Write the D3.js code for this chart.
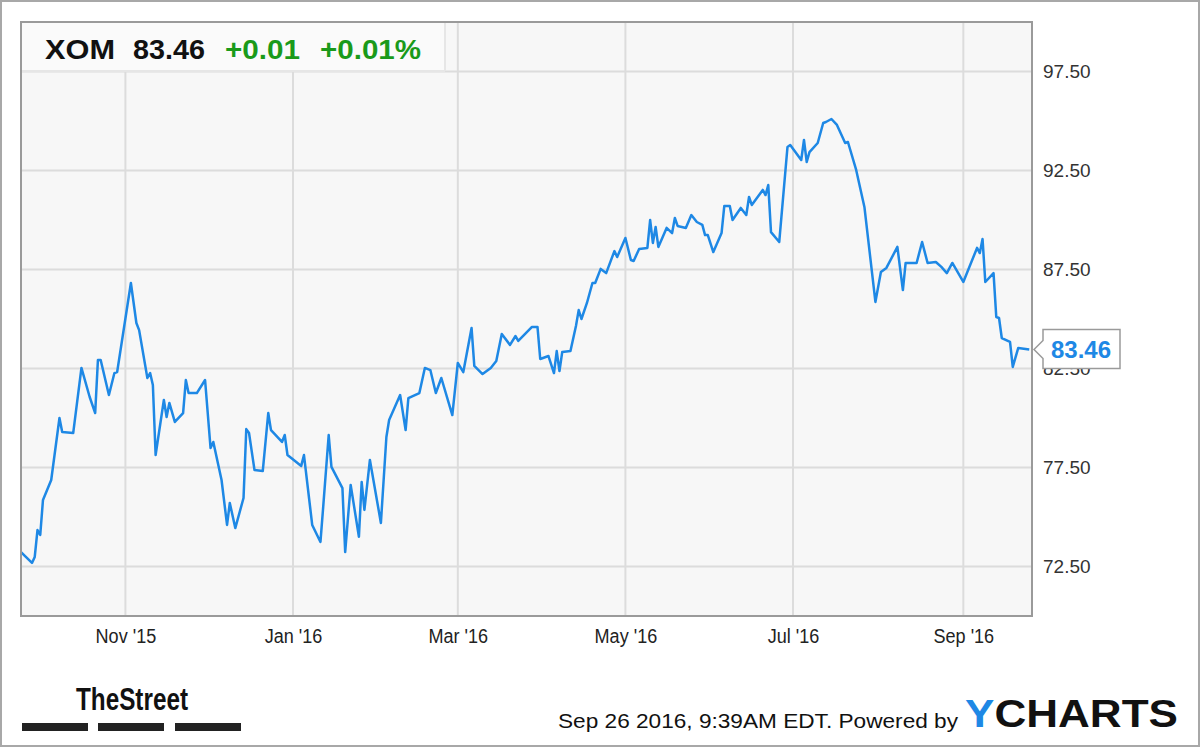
<!DOCTYPE html>
<html><head><meta charset="utf-8">
<script src="https://cdn.jsdelivr.net/npm/d3@7"></script>
<style>body{margin:0;background:#fff}svg{display:block}</style>
</head><body>
<script>
const startDate = "2015-09-24";
const dayOffsets = [0,4,5,6,7,8,11,14,15,19,22,25,27,28,29,32,34,35,40,42,43,46,47,48,
49,52,53,54,56,59,60,61,64,67,69,70,73,75,76,78,81,82,83,85,88,90,91,95,96,97,102,103,106,109,110,112,113,117,118,120,123,124,125,127,131,133,134,138,140,141,145,147,
149,151,153,157,159,161,164,165,168,171,173,175,178,180,181,186,188,189,192,194,195,196,197,200,202,203,204,206,208,209,211,213,216,217,220,222,223,225,228,229,230,231,232,235,237,238,239,242,244,246,248,
249,250,252,255,256,258,259,262,264,265,266,270,271,272,273,276,279,280,284,285,286,287,290,292,293,295,297,300,301,304,307,311,313,315,319,321,322,326,328,330,333,335,337,339,343,
348,349,350,351,354,355,356,357,360,361,363,367];
const prices = [73.23,72.68,72.98,74.34,74.09,75.86,76.87,80.0,79.29,79.24,82.53,81.06,80.25,82.93,82.93,81.16,82.27,82.32,86.82,84.8,84.44,82.02,82.27,81.67,
78.13,80.91,80.05,80.76,79.8,80.25,81.92,81.26,81.26,81.92,78.48,78.79,76.87,74.6,75.71,74.44,75.96,79.44,79.24,77.37,77.32,80.25,79.39,78.79,79.14,78.13,77.58,78.13,74.6,73.74,75.51,79.14,77.53,76.46,73.23,76.62,74.0,76.77,75.36,77.88,74.7,79.04,79.9,81.16,79.39,81.0,81.26,82.53,
82.42,81.26,82.02,80.15,82.78,82.32,84.55,82.63,82.22,82.53,82.88,84.24,83.69,84.14,83.89,84.6,84.6,82.98,83.13,82.27,83.38,82.37,83.33,83.38,84.65,85.45,85.0,85.81,86.82,86.82,87.53,87.32,88.43,88.13,89.09,87.98,87.93,88.54,88.59,90.0,88.84,89.65,88.64,89.6,89.34,90.1,89.7,89.6,90.25,89.9,89.75,
89.24,89.24,88.38,89.34,90.71,90.71,90.0,90.61,90.25,91.16,90.76,91.52,91.26,91.77,89.39,88.89,93.69,93.79,93.03,94.04,92.93,93.43,93.89,94.9,94.95,95.1,94.8,93.89,93.94,92.53,90.66,85.86,87.37,87.58,88.64,86.46,87.83,87.83,88.89,87.83,87.88,87.63,87.32,87.83,86.87,
88.59,88.33,89.04,86.87,87.32,85.1,85.05,84.04,83.84,82.58,83.54,83.46];
const yTicks = [72.5,77.5,82.5,87.5,92.5,97.5];
const xTickDates = ["2015-11-01","2016-01-01","2016-03-01","2016-05-01","2016-07-01","2016-09-01"];
const xTickLabels = ["Nov '15","Jan '16","Mar '16","May '16","Jul '16","Sep '16"];
const ticker = "XOM", lastPrice = "83.46", change = "+0.01", changePct = "+0.01%";

const W=1200,H=747, L=21,R=1032,T=22,B=616;
const parse = d3.timeParse("%Y-%m-%d");
const s0 = parse(startDate);
const data = dayOffsets.map((d,i)=>({date:d3.timeDay.offset(s0,d), v:prices[i]}));
const x = d3.scaleTime().domain([s0, parse("2016-09-26")]).range([L,R]);
const y = d3.scaleLinear().domain([70,100]).range([B,T]);
const FF = "Liberation Sans, Arial, sans-serif";

const svg = d3.select("body").append("svg").attr("width",W).attr("height",H);
svg.append("rect").attr("x",0.5).attr("y",0.5).attr("width",W-1).attr("height",H-1).attr("fill","#fff").attr("stroke","#a8a8a8").attr("stroke-width",3);
svg.append("rect").attr("x",L).attr("y",T).attr("width",R-L).attr("height",B-T).attr("fill","#f7f7f7");

const g = svg.append("g");
g.selectAll(".hg").data(yTicks).join("line").attr("x1",L).attr("x2",R).attr("y1",d=>y(d)).attr("y2",d=>y(d)).attr("stroke","#dcdcdc").attr("stroke-width",2);
g.selectAll(".vg").data(xTickDates).join("line").attr("x1",d=>x(parse(d))).attr("x2",d=>x(parse(d))).attr("y1",T).attr("y2",B).attr("stroke","#dcdcdc").attr("stroke-width",2);

// header
svg.append("rect").attr("x",L).attr("y",T).attr("width",424).attr("height",49).attr("fill","#fafafa");
svg.append("line").attr("x1",L).attr("x2",L+424).attr("y1",T+49).attr("y2",T+49).attr("stroke","#e6e6e6").attr("stroke-width",2);
svg.append("line").attr("x1",L+424).attr("x2",L+424).attr("y1",T).attr("y2",T+49).attr("stroke","#e6e6e6").attr("stroke-width",2);
[[ticker,45,"#111",70],[lastPrice,133,"#111",72],[change,225,"#1a9a1a",75],[changePct,320,"#1a9a1a",101]].forEach(t=>{
  svg.append("text").attr("x",t[1]).attr("y",59).text(t[0]).attr("fill",t[2]).attr("font-weight","bold").attr("font-family",FF).attr("font-size",27).attr("textLength",t[3]).attr("lengthAdjust","spacingAndGlyphs");
});

// line
svg.append("path").datum(data).attr("d",d3.line().x(d=>x(d.date)).y(d=>y(d.v))).attr("fill","none").attr("stroke","#1e88e5").attr("stroke-width",2.5).attr("stroke-linejoin","round");

// frame
svg.append("rect").attr("x",L).attr("y",T).attr("width",R-L).attr("height",B-T).attr("fill","none").attr("stroke","#9a9a9a").attr("stroke-width",2);

// axes
const ya = svg.append("g").attr("transform",`translate(${R},0)`).call(d3.axisRight(y).tickValues(yTicks).tickFormat(d3.format(".2f")).tickSize(0).tickPadding(11));
ya.select(".domain").remove();
ya.selectAll("text").attr("font-family",FF).attr("font-size",19).attr("fill","#333");
const xa = svg.append("g").attr("transform",`translate(0,${B})`).call(d3.axisBottom(x).tickValues(xTickDates.map(parse)).tickFormat((d,i)=>xTickLabels[i]).tickSize(0).tickPadding(12));
xa.select(".domain").remove();
xa.selectAll("text").attr("font-family",FF).attr("font-size",21).attr("fill","#222").attr("transform","scale(0.86,1)");

// price label
const ly = y(+lastPrice);
svg.append("path").attr("d",`M${R+2},${ly} L${R+11},${ly-9} L${R+11},${ly-20} L1120,${ly-20} L1120,${ly+19} L${R+11},${ly+19} L${R+11},${ly+9} Z`).attr("fill","#fff").attr("stroke","#9a9a9a").attr("stroke-width",1.5);
svg.append("text").attr("x",1081).attr("y",ly+9).attr("text-anchor","middle").text(lastPrice).attr("fill","#1e88e5").attr("font-weight","bold").attr("font-family",FF).attr("font-size",24);

// footer
svg.append("text").attr("x",76).attr("y",710).text("TheStreet").attr("font-family",FF).attr("font-weight","bold").attr("font-size",31).attr("textLength",112).attr("lengthAdjust","spacingAndGlyphs").attr("fill","#111");
[[22,88],[98,164],[175,241]].forEach(b=>svg.append("rect").attr("x",b[0]).attr("y",723).attr("width",b[1]-b[0]).attr("height",8).attr("fill","#222"));
svg.append("text").attr("x",558).attr("y",728).text("Sep 26 2016, 9:39AM EDT. Powered by").attr("font-family",FF).attr("font-size",21).attr("textLength",400).attr("lengthAdjust","spacingAndGlyphs").attr("fill","#111");
const yc = svg.append("text").attr("x",965).attr("y",727).attr("font-family",FF).attr("font-weight","bold").attr("font-size",38).attr("textLength",213).attr("lengthAdjust","spacingAndGlyphs");
yc.append("tspan").text("Y").attr("fill","#1e88e5");
yc.append("tspan").text("CHARTS").attr("fill","#111");
</script>
</body></html>
